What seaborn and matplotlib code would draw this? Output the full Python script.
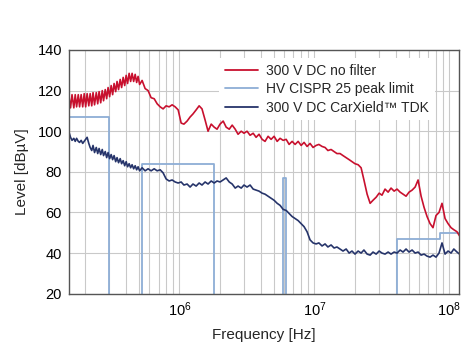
import numpy as np
import pandas as pd
import matplotlib.pyplot as plt
from matplotlib.ticker import LogLocator, NullFormatter
import seaborn as sns

# receiver sweep, MHz (finer steps at the low end to keep the ripple)
freq_low = [0.152, 0.156, 0.160, 0.165, 0.169, 0.173, 0.178, 0.182,
            0.187, 0.192, 0.197, 0.202, 0.207, 0.213, 0.218, 0.224,
            0.229, 0.235, 0.242, 0.248, 0.254, 0.261, 0.268, 0.274,
            0.282, 0.289, 0.296, 0.304, 0.312, 0.320, 0.328, 0.337,
            0.345, 0.354, 0.364, 0.373, 0.383, 0.393, 0.403, 0.413,
            0.424, 0.435, 0.446, 0.458, 0.470, 0.482, 0.494, 0.507]
freq_high = [0.529, 0.557, 0.586, 0.617, 0.650, 0.684, 0.720, 0.757, 0.797, 0.839,
             0.883, 0.930, 0.979, 1.03, 1.08, 1.14, 1.20, 1.26, 1.33, 1.40,
             1.47, 1.55, 1.63, 1.72, 1.81, 1.90, 2.00, 2.11, 2.22, 2.34,
             2.46, 2.59, 2.72, 2.87, 3.01, 3.17, 3.34, 3.52, 3.70, 3.89,
             4.10, 4.31, 4.54, 4.78, 5.03, 5.30, 5.57, 5.87, 6.18, 6.50,
             6.84, 7.20, 7.58, 7.98, 8.39, 8.83, 9.29, 9.78, 10.3, 10.8,
             11.4, 12.0, 12.6, 13.3, 14.0, 14.7, 15.5, 16.3, 17.2, 18.1,
             19.0, 20.0, 21.1, 22.2, 23.3, 24.6, 25.9, 27.2, 28.7, 30.2,
             31.7, 33.4, 35.2, 37.0, 39.0, 41.0, 43.2, 45.4, 47.8, 50.3,
             53.0, 55.8, 58.7, 61.8, 65.0, 68.4, 72.0, 75.7, 79.7, 83.9,
             88.3, 93.0, 97.9, 103, 108, 114, 119]

# 300 V DC, no filter (dBuV)
nofilter_low = [117, 111.5, 118, 111.5, 118, 112, 118, 112,
                118, 112, 118.5, 112, 118.5, 112.5, 118.5, 112.5,
                119, 113, 119, 113.5, 119.5, 114, 120, 115,
                120.5, 116, 121.5, 117, 122.5, 118, 123.5, 119.5,
                124.5, 120.5, 125.5, 121.5, 126.5, 122.5, 127.5, 123.5,
                128.5, 124.5, 128.5, 124.5, 128, 124, 127, 123]
nofilter_high = [125, 121, 120, 116.5, 116, 113.5, 112, 111, 112.5, 112,
                 113, 112, 110.5, 104, 103.5, 105, 107, 108.5, 110.5, 112.5,
                 111, 105.5, 100, 103.5, 102, 101, 103.5, 105, 102, 101,
                 103, 101, 98.5, 100, 99, 100, 98, 99, 97, 98.5,
                 96, 95, 97.5, 96, 97.5, 95, 96.5, 95.5, 96, 93.5,
                 95, 93.5, 95, 93, 94.5, 92.5, 94, 92, 93, 93.5,
                 92.5, 92, 90.5, 91, 90, 89, 89, 88, 87, 86,
                 85, 84, 83.5, 82, 76, 69, 64.5, 66, 67.5, 69.5,
                 68.5, 71.5, 70, 72, 70.5, 71.5, 70, 69, 68, 70,
                 71, 72.5, 76, 68, 62.5, 58, 54.5, 52.5, 58.5, 60,
                 64.5, 57, 54.5, 52.5, 51.5, 50.5, 48.5]

# 300 V DC with CarXield filter (dBuV)
carxield_low = [99.5, 97, 95.5, 96.5, 95, 96.5, 95, 94.5,
                95.5, 94, 95, 96, 97, 94, 92, 90.5,
                93, 89.5, 92, 89, 91.5, 88.5, 91, 88,
                90, 87, 89.5, 86.5, 88.5, 86, 88, 85,
                87, 84.5, 86.5, 84, 85.5, 83, 85, 82.5,
                84, 82, 83.5, 81.5, 83, 81, 82.5, 80.5]
carxield_high = [82, 80.5, 81.5, 80.5, 81.5, 80.5, 81, 79.5, 76.5, 75.5,
                 76, 75, 74.5, 75, 73.5, 74, 72.5, 74, 73, 74.5,
                 73.5, 75, 74, 75.5, 74.5, 75.5, 75, 76, 77, 75,
                 74, 72, 73, 72, 73.5, 72.5, 73.5, 71.5, 71, 70.5,
                 69.5, 69, 68, 67, 66, 64.5, 63.5, 61.5, 61, 59.5,
                 58, 57, 56, 54.5, 53, 50.5, 46.5, 45, 44.5, 45,
                 43.5, 44.5, 43, 44, 42.5, 43, 42, 41, 42, 40,
                 41, 39.5, 41, 40, 41.5, 39.5, 39, 40.5, 39.5, 41,
                 40, 39.5, 40.5, 39.5, 40.5, 40, 41.5, 40.5, 42, 40.5,
                 41.5, 40, 40.5, 39, 39.5, 38.5, 38, 39, 38, 40,
                 45, 39.5, 41, 40, 42, 40.5, 39.5]

# HV CISPR 25 peak limit, band edges (MHz) and level (dBuV)
limit_freq = [0.15, 0.30, 0.30, 0.53, 0.53, 1.8, 1.8, 5.9,
              5.9, 6.2, 6.2, 41, 41, 86, 86, 119]
limit_level = [107, 107, 0, 0, 84, 84, 0, 0,
               77, 77, 0, 0, 47, 47, 50, 50]

labels = ["300 V DC no filter", "HV CISPR 25 peak limit", "300 V DC CarXield™ TDK"]
colors = ["#c8102e", "#8eaed6", "#26346a"]

freq_hz = np.array(freq_low + freq_high) * 1e6
df = pd.concat([
    pd.DataFrame({"freq": freq_hz, "level": nofilter_low + nofilter_high, "series": labels[0]}),
    pd.DataFrame({"freq": freq_hz, "level": carxield_low + carxield_high, "series": labels[2]}),
])
limit = pd.DataFrame({"freq": np.array(limit_freq) * 1e6, "level": limit_level})

sns.set_style("white")
plt.rcParams["font.family"] = ["Liberation Sans", "DejaVu Sans"]
plt.rcParams["mathtext.default"] = "regular"

fig = plt.figure(figsize=(4.74, 3.55), dpi=100)
ax = fig.add_axes([0.1456, 0.1727, 0.8234, 0.6865])

sns.lineplot(data=limit, x="freq", y="level", color=colors[1], lw=1.3,
             sort=False, estimator=None, ax=ax, label=labels[1])
sns.lineplot(data=df, x="freq", y="level", hue="series",
             palette={labels[0]: colors[0], labels[2]: colors[2]},
             sort=False, estimator=None, lw=1.2, ax=ax)

ax.set_xscale("log")
ax.set_xlim(1.52e5, 1.186e8)
ax.set_ylim(20, 140)
ax.set_yticks([20, 40, 60, 80, 100, 120, 140])
ax.xaxis.set_major_locator(LogLocator(base=10))
ax.xaxis.set_minor_locator(LogLocator(base=10, subs=np.arange(2, 10)))
ax.xaxis.set_minor_formatter(NullFormatter())

ax.grid(which="major", color="#c9c9c9", lw=0.8)
ax.grid(which="minor", axis="x", color="#c9c9c9", lw=0.8)
ax.set_axisbelow(True)
for s in ax.spines.values():
    s.set_color("#555555")
    s.set_linewidth(1.0)
ax.tick_params(which="both", length=0, labelsize=10.5, pad=5, colors="black")

ax.set_xlabel("Frequency [Hz]", fontsize=11, labelpad=6)
ax.set_ylabel("Level [dBµV]", fontsize=11, labelpad=6)

h, l = ax.get_legend_handles_labels()
order = [l.index(t) for t in labels]
leg = ax.legend([h[i] for i in order], labels, loc="upper right",
                bbox_to_anchor=(0.955, 0.995), fontsize=10, frameon=True,
                fancybox=False, framealpha=1, edgecolor="none",
                handlelength=2.4, handletextpad=0.6, labelspacing=0.33,
                borderpad=0.4)
for line in leg.get_lines():
    line.set_linewidth(1.3)

fig.savefig("out.png", dpi=100, facecolor="white")
